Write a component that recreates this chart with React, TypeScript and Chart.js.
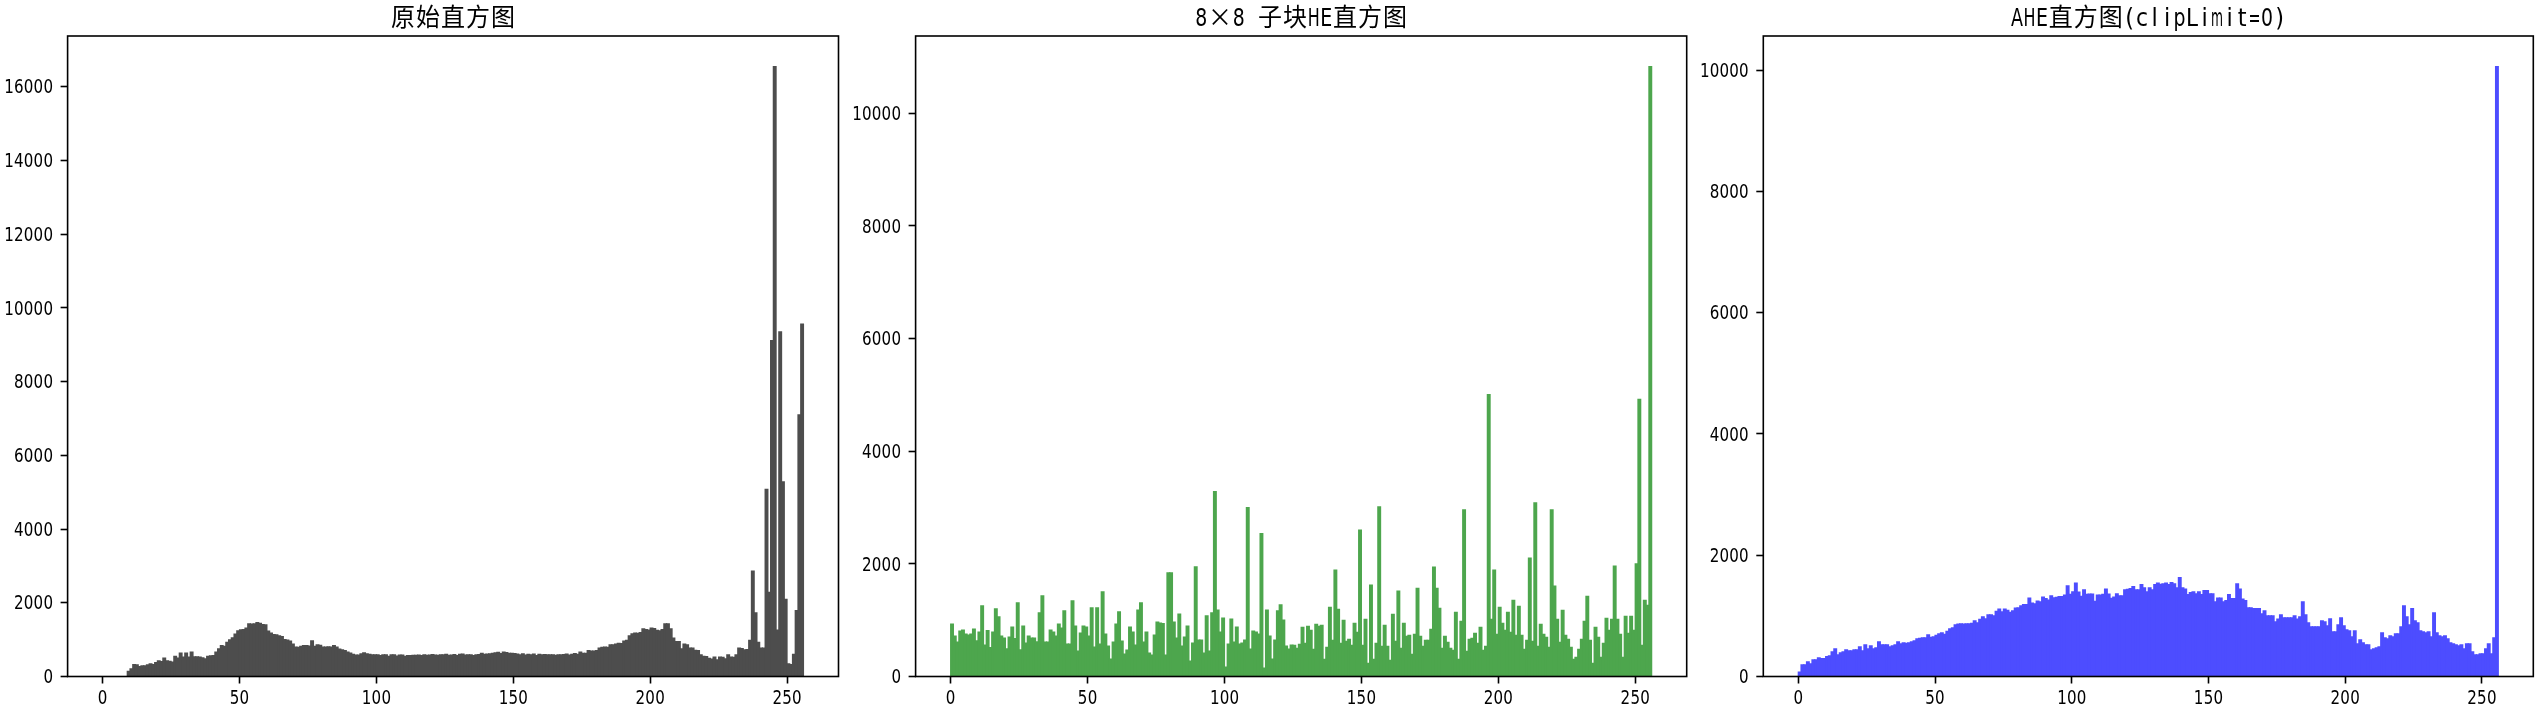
import React, { useEffect, useRef } from "react";
import { Chart, registerables } from "chart.js";

Chart.register(...registerables);

// ---------------- data ----------------
const BIN_COUNT = 256;
const BIN_LEFT_EDGES: number[] = Array.from({ length: BIN_COUNT }, (_, i) => i);
const X_TICKS = [0, 50, 100, 150, 200, 250];
const X_MIN = -12.8;
const X_MAX = 268.8;
const Y_TICKS_ORIGINAL = [0, 2000, 4000, 6000, 8000, 10000, 12000, 14000, 16000];
const Y_TICKS_HE = [0, 2000, 4000, 6000, 8000, 10000];
const Y_TICKS_AHE = [0, 2000, 4000, 6000, 8000, 10000];
const TITLES = ["原始直方图", "8×8 子块HE直方图", "AHE直方图(clipLimit=0)"];

const ORIGINAL_COUNTS = [
  0, 0, 0, 0, 0, 0, 0, 0, 0, 140,
  210, 320, 315, 270, 290, 290, 315, 340, 325, 380,
  425, 405, 500, 425, 410, 390, 545, 500, 635, 525,
  635, 525, 660, 535, 535, 525, 505, 480, 545, 560,
  565, 660, 750, 835, 815, 925, 995, 1050, 1150, 1240,
  1265, 1270, 1315, 1430, 1420, 1430, 1460, 1440, 1405, 1400,
  1230, 1180, 1140, 1130, 1105, 1085, 1000, 990, 960, 880,
  800, 790, 815, 835, 835, 825, 970, 815, 860, 845,
  800, 795, 805, 800, 835, 795, 745, 725, 705, 660,
  635, 600, 580, 580, 615, 645, 615, 600, 590, 590,
  590, 570, 590, 585, 550, 590, 585, 555, 580, 580,
  545, 565, 570, 575, 575, 580, 565, 590, 575, 580,
  595, 580, 575, 590, 585, 600, 575, 580, 595, 570,
  600, 605, 580, 585, 590, 570, 590, 595, 630, 600,
  610, 615, 625, 640, 655, 620, 660, 650, 630, 625,
  620, 610, 590, 615, 580, 600, 590, 610, 570, 600,
  590, 595, 585, 590, 585, 575, 590, 585, 595, 610,
  580, 600, 620, 600, 660, 630, 625, 700, 690, 690,
  700, 770, 790, 800, 790, 860, 860, 880, 900, 890,
  960, 980, 1100, 1160, 1180, 1170, 1190, 1290, 1270, 1260,
  1310, 1300, 1250, 1240, 1270, 1430, 1430, 1290, 1040, 950,
  950, 750, 880, 860, 770, 770, 710, 700, 590, 545,
  540, 490, 470, 525, 455, 525, 520, 480, 590, 525,
  520, 590, 770, 760, 725, 730, 980, 2860, 1725, 925,
  770, 770, 5080, 2280, 9110, 16550, 1260, 9350, 5280, 2090,
  340, 320, 600, 1785, 7100, 9560,
];

const HE_COUNTS = [
  932, 718, 611, 807, 825, 754, 736, 754, 843, 635,
  790, 1253, 558, 813, 511, 790, 1199, 1057, 718, 683,
  493, 700, 879, 671, 1306, 475, 896, 594, 718, 683,
  683, 617, 1128, 1431, 611, 611, 825, 790, 718, 932,
  861, 1164, 576, 576, 1342, 896, 451, 772, 896, 879,
  718, 1217, 522, 1217, 576, 1502, 754, 540, 309, 611,
  932, 1146, 629, 398, 469, 879, 790, 558, 1181, 1306,
  611, 790, 416, 380, 736, 968, 950, 938, 380, 1840,
  1840, 968, 683, 1110, 540, 700, 896, 273, 594, 1947,
  647, 647, 416, 1075, 451, 1128, 3283, 1181, 790, 1039,
  166, 576, 1021, 611, 879, 576, 594, 647, 2998, 487,
  807, 790, 754, 2535, 148, 1181, 718, 309, 647, 1164,
  1270, 1003, 540, 487, 558, 552, 499, 570, 873, 588,
  891, 819, 481, 926, 891, 908, 303, 517, 1229, 641,
  1888, 1193, 588, 997, 623, 659, 552, 944, 784, 2600,
  552, 1015, 232, 1621, 303, 588, 3010, 534, 908, 534,
  285, 1104, 623, 1514, 499, 944, 712, 730, 392, 748,
  1567, 712, 534, 641, 641, 837, 1941, 1567, 1211, 499,
  712, 606, 499, 463, 1140, 303, 980, 2957, 445, 659,
  677, 766, 588, 873, 463, 534, 5005, 1015, 1888, 748,
  1229, 944, 819, 1140, 784, 1354, 730, 1247, 730, 481,
  641, 2102, 623, 3081, 534, 926, 748, 695, 517, 2957,
  1603, 1015, 606, 1176, 730, 659, 517, 303, 338, 481,
  659, 980, 1425, 641, 232, 873, 695, 338, 588, 1033,
  819, 1015, 1959, 1015, 748, 338, 1069, 766, 1069, 819,
  2000, 4920, 552, 1354, 1265, 10830,
];

const AHE_COUNTS = [
  72, 193, 193, 242, 209, 275, 275, 308, 297, 297,
  330, 341, 407, 457, 358, 391, 407, 440, 424, 424,
  440, 440, 490, 424, 523, 457, 506, 457, 473, 572,
  523, 523, 523, 490, 506, 523, 572, 539, 556, 545,
  556, 572, 589, 622, 628, 639, 639, 688, 644, 655,
  677, 705, 721, 694, 743, 787, 804, 853, 864, 870,
  864, 870, 870, 875, 919, 886, 941, 985, 952, 1018,
  1018, 1002, 1073, 1112, 1068, 1112, 1090, 1057, 1084, 1129,
  1134, 1167, 1184, 1184, 1294, 1211, 1200, 1244, 1233, 1310,
  1283, 1261, 1332, 1299, 1305, 1316, 1316, 1343, 1497, 1354,
  1398, 1541, 1393, 1321, 1431, 1354, 1360, 1360, 1239, 1343,
  1343, 1354, 1442, 1360, 1288, 1310, 1365, 1332, 1332, 1431,
  1437, 1448, 1481, 1431, 1431, 1514, 1464, 1398, 1464, 1431,
  1514, 1541, 1519, 1530, 1541, 1514, 1547, 1530, 1464, 1629,
  1464, 1442, 1349, 1382, 1398, 1365, 1398, 1349, 1415, 1415,
  1365, 1365, 1233, 1294, 1294, 1233, 1250, 1349, 1283, 1283,
  1530, 1442, 1277, 1250, 1134, 1134, 1118, 1118, 1118, 1035,
  1084, 1002, 1002, 1002, 903, 947, 1018, 969, 969, 969,
  969, 1002, 947, 985, 1233, 1018, 886, 820, 820, 820,
  820, 919, 903, 837, 952, 738, 738, 853, 969, 837,
  771, 754, 655, 754, 539, 606, 556, 523, 523, 440,
  457, 473, 490, 721, 639, 622, 672, 655, 705, 705,
  820, 1167, 985, 853, 1118, 919, 886, 754, 738, 721,
  738, 655, 1051, 721, 672, 655, 672, 622, 556, 539,
  523, 506, 523, 457, 539, 539, 407, 358, 358, 374,
  374, 457, 539, 374, 639, 10060,
];

const COLORS = ["#4d4d4d", "#4da64d", "#4d4dff"];

// ---------------- layout ----------------
const FIG_W = 2537;
const FIG_H = 715;
const AXES_TOP = 36;
const AXES_BOTTOM = 676.5;
const LATIN_FONT = "'Liberation Sans Narrow', 'DejaVu Sans Condensed', 'Liberation Sans', sans-serif";
const CJK_FONT = "'Noto Sans CJK SC', sans-serif";
const TICK_SIZE = 19;
const DIGIT_ADVANCE = 9.8;
const TITLE_SIZE = 25;
const TICK_LEN = 7;
const LABEL_GAP = 7.5;

const PANELS = [
  { canvasLeft: 0, canvasWidth: 845, axLeft: 67.6, axRight: 838.5 },
  { canvasLeft: 845, canvasWidth: 848, axLeft: 915.6, axRight: 1686.7 },
  { canvasLeft: 1693, canvasWidth: 844, axLeft: 1763.3, axRight: 2533.3 },
];

function isWide(c: string) {
  return /[\u00d7\u2e80-\u9fff\uff00-\uffef]/.test(c);
}

function drawTitle(ctx: CanvasRenderingContext2D, text: string, cx: number, baseline: number, size: number) {
  const chars = Array.from(text);
  const total = chars.reduce((s, c) => s + (isWide(c) ? size : size / 2), 0);
  let x = cx - total / 2;
  ctx.save();
  ctx.fillStyle = "#000";
  ctx.textAlign = "center";
  ctx.textBaseline = "alphabetic";
  for (const c of chars) {
    const w = isWide(c) ? size : size / 2;
    ctx.font = `${size}px ${isWide(c) ? CJK_FONT : LATIN_FONT}`;
    if (c !== " ") ctx.fillText(c, x + w / 2, baseline, w * 0.96);
    x += w;
  }
  ctx.restore();
}

// draws a numeric label with fixed half-width digit cells
function drawNumber(ctx: CanvasRenderingContext2D, text: string, x: number, baseline: number, align: "center" | "right") {
  const w = text.length * DIGIT_ADVANCE;
  const left = align === "center" ? x - w / 2 : x - w;
  ctx.font = `${TICK_SIZE}px ${LATIN_FONT}`;
  ctx.textAlign = "center";
  ctx.textBaseline = "alphabetic";
  for (let k = 0; k < text.length; k++) {
    ctx.fillText(text[k], left + DIGIT_ADVANCE * (k + 0.5), baseline, DIGIT_ADVANCE * 0.98);
  }
}

function makeConfig(idx: number, values: number[], yTicks: number[]) {
  const p = PANELS[idx];
  const yMax = Math.max(...values) * 1.05;
  const framePlugin = {
    id: "frameAndTitle" + idx,
    afterDatasetsDraw(chart: any) {
      const { ctx, chartArea: a } = chart;
      ctx.save();
      ctx.strokeStyle = "#000";
      ctx.lineWidth = 1.6;
      ctx.strokeRect(a.left, a.top, a.right - a.left, a.bottom - a.top);
      ctx.fillStyle = "#000";
      const xs = chart.scales.x;
      const ys = chart.scales.y;
      for (const v of X_TICKS) {
        drawNumber(ctx, String(v), xs.getPixelForValue(v), a.bottom + TICK_LEN + LABEL_GAP + 13.3, "center");
      }
      for (const v of yTicks) {
        drawNumber(ctx, String(v), a.left - TICK_LEN - LABEL_GAP, ys.getPixelForValue(v) + 6.7, "right");
      }
      ctx.restore();
      drawTitle(ctx, TITLES[idx], (a.left + a.right) / 2, a.top - 10, TITLE_SIZE);
    },
  };
  return {
    type: "bar" as const,
    data: {
      datasets: [
        {
          data: values.map((v, i) => ({ x: BIN_LEFT_EDGES[i] + 0.5, y: v })),
          backgroundColor: COLORS[idx],
          borderWidth: 0,
          inflateAmount: 0.6,
          categoryPercentage: 1,
          barPercentage: 1,
        },
      ],
    },
    options: {
      animation: false as const,
      responsive: false,
      maintainAspectRatio: false,
      devicePixelRatio: 1,
      layout: {
        padding: { left: 0, right: p.canvasLeft + p.canvasWidth - p.axRight, top: AXES_TOP, bottom: 0 },
      },
      plugins: { legend: { display: false }, tooltip: { enabled: false }, title: { display: false } },
      scales: {
        x: {
          type: "linear" as const,
          min: X_MIN,
          max: X_MAX,
          offset: false,
          afterBuildTicks: (s: any) => {
            s.ticks = X_TICKS.map((v) => ({ value: v }));
          },
          afterFit: (s: any) => {
            s.height = FIG_H - AXES_BOTTOM;
          },
          ticks: { display: false },
          grid: {
            display: true,
            offset: false,
            drawOnChartArea: false,
            drawTicks: true,
            tickLength: TICK_LEN,
            tickWidth: 1.6,
            tickColor: "#000",
          },
          border: { display: false },
        },
        y: {
          type: "linear" as const,
          min: 0,
          max: yMax,
          afterBuildTicks: (s: any) => {
            s.ticks = yTicks.map((v) => ({ value: v }));
          },
          afterFit: (s: any) => {
            s.width = p.axLeft - p.canvasLeft;
          },
          ticks: { display: false },
          grid: {
            display: true,
            drawOnChartArea: false,
            drawTicks: true,
            tickLength: TICK_LEN,
            tickWidth: 1.6,
            tickColor: "#000",
          },
          border: { display: false },
        },
      },
    },
    plugins: [framePlugin],
  };
}

export default function App() {
  const r0 = useRef<HTMLCanvasElement>(null);
  const r1 = useRef<HTMLCanvasElement>(null);
  const r2 = useRef<HTMLCanvasElement>(null);

  useEffect(() => {
    const refs = [r0, r1, r2];
    const series = [ORIGINAL_COUNTS, HE_COUNTS, AHE_COUNTS];
    const ticks = [Y_TICKS_ORIGINAL, Y_TICKS_HE, Y_TICKS_AHE];
    const charts = refs.map((r, i) => new Chart(r.current as HTMLCanvasElement, makeConfig(i, series[i], ticks[i]) as any));
    return () => charts.forEach((c) => c.destroy());
  }, []);

  const refs = [r0, r1, r2];
  return (
    <div style={{ position: "fixed", left: 0, top: 0, width: FIG_W, height: FIG_H, background: "#fff", overflow: "hidden" }}>
      {PANELS.map((p, i) => (
        <canvas
          key={i}
          ref={refs[i]}
          width={p.canvasWidth}
          height={FIG_H}
          style={{ position: "absolute", left: p.canvasLeft, top: 0, width: p.canvasWidth, height: FIG_H }}
        />
      ))}
    </div>
  );
}
